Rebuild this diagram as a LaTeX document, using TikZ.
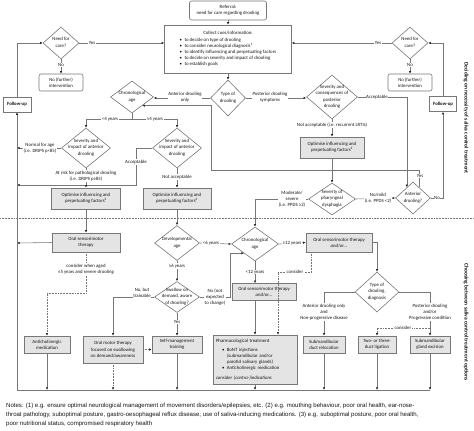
\documentclass[tikz,border=0pt]{standalone}
\usepackage{fontspec}
\setmainfont{Carlito}
\newfontfamily\notesfont{Liberation Sans}
\usetikzlibrary{arrows.meta,shapes.geometric}
\definecolor{lncol}{HTML}{777777}
\definecolor{boxfill}{HTML}{E4E4E4}
\definecolor{txtcol}{HTML}{151515}
\def\dtxt#1{\smash{\raisebox{-1pt}{\makebox[0pt]{\begin{tabular}{@{}c@{}}#1\end{tabular}}}}}
\tikzset{
	every node/.style={font=\fontsize{4.8}{6.1}\selectfont, text=txtcol},
	wbox/.style={draw=lncol, fill=white, align=center, inner sep=1pt, line width=0.6pt},
	gbox/.style={wbox, fill=boxfill},
	rbox/.style={wbox, rounded corners=2pt},
	fubox/.style={wbox, font=\fontsize{4.8}{6.1}\selectfont\bfseries},
	dia/.style={draw=lncol, fill=white, shape=diamond, inner sep=0pt, line width=0.6pt},
	lbl/.style={fill=white, inner sep=0.5pt, align=center},
	conn/.style={draw=lncol, line width=0.55pt},
	arr/.style={conn, -{Latex[length=2.6pt,width=2.4pt,color=black!85]}},
	dconn/.style={conn, densely dotted},
	darr/.style={arr, densely dotted},
	sidelbl/.style={rotate=-90, font=\fontsize{5.5}{6}\selectfont\bfseries},
}

\begin{document}
\begin{tikzpicture}[x=1pt,y=-1pt]
			%%%%% START %%%%%
			\useasboundingbox (0,0) rectangle (474,431);
			
			\node[rbox, minimum width=77pt, minimum height=19pt] (refer) at (228,10.5) {Referral:\\need for care regarding drooling};
			\node[wbox, minimum width=127pt, minimum height=48pt] (cues) at (228,49) {Collect cues/information:\\[1.5pt]
				\begin{tabular}{@{}l@{}}
				\textbullet\enspace to decide on type of drooling\\
				\textbullet\enspace to consider neurological diagnosis\textsuperscript{1}\\
				\textbullet\enspace to identify influencing and perpetuating factors\\
				\textbullet\enspace to decide on severity and impact of drooling\\
				\textbullet\enspace to establish goals
				\end{tabular}};
			
			\node[dia, minimum width=36pt, minimum height=32pt] (careL) at (61,43) {\dtxt{Need for\\care?}};
			\node[dia, minimum width=36pt, minimum height=32pt] (careR) at (410,43) {\dtxt{Need for\\care?}};
			\node[rbox, minimum width=44pt, minimum height=17pt] (noneL) at (61,82.5) {No (further)\\intervention};
			\node[rbox, minimum width=44pt, minimum height=17pt] (noneR) at (410,82.5) {No (further)\\intervention};
			\node[fubox, minimum width=28pt, minimum height=15pt] (fuL) at (17,104.5) {Follow-up};
			\node[fubox, minimum width=27pt, minimum height=15pt] (fuR) at (443,104) {Follow-up};
			
			\node[dia, minimum width=35pt, minimum height=36pt] (typ) at (228,98) {\dtxt{Type of\\drooling}};
			\node[dia, minimum width=43pt, minimum height=32pt] (chrA) at (132,97) {\dtxt{Chronological\\age}};
			\node[dia, minimum width=51pt, minimum height=44pt] (posev) at (332,97) {\dtxt{Severity and\\consequences of\\posterior\\drooling}};
			\node[dia, minimum width=49pt, minimum height=40pt] (sevL) at (86,148) {\dtxt{Severity and\\impact of anterior\\drooling}};
			\node[dia, minimum width=49pt, minimum height=40pt] (sevR) at (177,148) {\dtxt{Severity and\\impact of anterior\\drooling}};
			
			\node[gbox, minimum width=69pt, minimum height=21pt] (optL) at (86,198.5) {Optimise influencing and\\perpetuating factors\textsuperscript{2}};
			\node[gbox, minimum width=68pt, minimum height=21pt] (optR) at (177,198.5) {Optimise influencing and\\perpetuating factors\textsuperscript{2}};
			\node[gbox, minimum width=64pt, minimum height=21pt] (optP) at (332,147.5) {Optimise influencing and\\perpetuating factors\textsuperscript{3}};
			\node[dia, minimum width=47pt, minimum height=32pt] (phar) at (332,199) {\dtxt{Severity of\\pharyngeal\\dysphagia}};
			\node[dia, minimum width=35pt, minimum height=32pt] (antd) at (413,198) {\dtxt{Anterior\\drooling?}};
			
			\node[gbox, minimum width=68pt, minimum height=19pt] (therL) at (86,242.5) {Oral sensorimotor\\therapy};
			\node[dia, minimum width=45pt, minimum height=35pt] (devA) at (177,243) {\dtxt{Developmental\\age}};
			\node[dia, minimum width=47pt, minimum height=34pt] (chrB) at (255,244) {\dtxt{Chronological\\age}};
			\node[gbox, minimum width=66pt, minimum height=19pt] (osC) at (339,242.5) {Oral sensorimotor therapy\\\textit{and/or...}};
			\node[dia, minimum width=45pt, minimum height=31pt] (swal) at (177,297) {\dtxt{Swallow on\\demand, aware\\of drooling?}};
			\node[gbox, minimum width=64pt, minimum height=17pt] (osB) at (264,292) {Oral sensorimotor therapy\\\textit{and/or...}};
			\node[dia, minimum width=44pt, minimum height=40pt] (diag) at (377,292) {\dtxt{Type of\\drooling,\\diagnosis}};
			
			\node[gbox, minimum width=46pt, minimum height=17pt] (antic) at (47,344.5) {Anticholinergic\\medication};
			\node[gbox, minimum width=60pt, minimum height=27pt] (omt) at (113,349.5) {Oral motor therapy\\focused on swallowing\\on demand/awareness};
			\node[gbox, minimum width=50pt, minimum height=17pt] (smt) at (177,344.5) {Self-management\\training};
			\node[gbox, minimum width=84pt, minimum height=49pt, text width=78pt, align=left] (pharm) at (255,359.5) {Pharmacological treatment\\[2.5pt]
				\hspace*{6pt}\textbullet\enspace BoNT injections\\
				\hspace*{11pt}(submandibular and/or\\
				\hspace*{11pt}parotid salivary glands)\\
				\hspace*{6pt}\textbullet\enspace Anticholinergic medication\\[3.5pt]
				\textit{consider (contra-)indications}};
			\node[gbox, minimum width=42pt, minimum height=17pt] (dur) at (324,344.5) {Submandibular\\duct relocation};
			\node[gbox, minimum width=38pt, minimum height=17pt] (tdl) at (377,344.5) {Two- or three-\\duct ligation};
			\node[gbox, minimum width=40pt, minimum height=17pt] (sge) at (430,344.5) {Submandibular\\gland excision};
			
			\coordinate (split) at (132,119);
			\coordinate (acc1) at (136,148);
			\coordinate (inL1) at (17,148);
			\coordinate (inL2) at (17,185);
			\coordinate (inL3) at (17,243);
			\coordinate (yesb) at (211,170);
			\coordinate (dt1) at (86,293);
			\coordinate (nc) at (230,297);
			\coordinate (cs1) at (278,272);
			\coordinate (cs2) at (430,328);
			\coordinate (botL) at (17,390);
			\coordinate (botR) at (430,390);
			
			\draw[lncol, densely dotted, line width=0.55pt] (0,218) -- (474,218);
			
			\draw[arr] (refer) -- (cues);
			\draw[arr] (careL.east) -- (cues.west |- careL.east);
			\draw[arr] (careR.west) -- (cues.east |- careR.west);
			\draw[arr] (careL) -- (noneL);
			\draw[arr] (careR) -- (noneR);
			\draw[arr] (fuL.north) |- (careL.west);
			\draw[arr] (fuR.north) |- (careR.east);
			\draw[arr] (cues.south -| typ.north) -- (typ.north);
			\draw[arr] (typ.west) -- (chrA.east |- typ.west);
			\draw[arr] (typ.east) -- (posev.west |- typ.east);
			\draw[arr] (chrA.south) -- (split) -| (sevL.north);
			\draw[arr] (split) -| (sevR.north);
			\draw[arr] (sevL.west) -- (inL1);
			\draw[arr] (sevR.west) -- (acc1) |- (inL2);
			\draw[arr] (sevL) -- (optL);
			\draw[arr] (sevR) -- (optR);
			\draw[arr] (posev) -- (optP);
			\draw[arr] (posev.east) -| (antd.120);
			\draw[arr] (optP) -- (phar);
			\draw[arr] (phar.east) -- (antd.west);
			\draw[arr] (phar.west) -| (chrB.north);
			\draw[arr] (antd.60) |- (yesb) |- (chrA.-40);
			\draw[arr] (antd.east) -| (fuR.south);
			
			\draw[arr] (optL) -- (therL);
			\draw[arr] (therL.west) -- (inL3);
			\draw[darr] (therL.south) -- (dt1) -| (antic.north);
			\draw[arr] (optR) -- (devA);
			\draw[arr] (devA.east) -- (chrB.west);
			\draw[arr] (devA) -- (swal);
			\draw[arr] (swal.west) -| (omt.north);
			\draw[arr] (swal.east) -- (nc) |- (chrB.-140);
			\draw[arr] (swal) -- (smt);
			\draw[darr] (omt.east) -- (smt.west |- omt.east);
			\draw[arr] (chrB.south) -- (chrB.south |- osB.north);
			\draw[arr] (chrB.east) -- (osC.west);
			\draw[arr] (osB.south -| pharm.north) -- (pharm.north);
			\draw[darr] ([xshift=6pt]osC.south west) |- (cs1) -- (cs1 |- pharm.north);
			\draw[arr] (osC.east) -| (diag.north);
			\draw[arr] (diag.west) -| (dur.north);
			\draw[arr] (diag.east) -| (sge.north);
			\draw[darr] (cs2) -| (tdl.north);
			
			\draw[arr] (antic.south) -- (antic.south |- botL);
			\draw[darr] (omt.south) -- (omt.south |- botL);
			\draw[arr] (smt.south) -- (smt.south |- botL);
			\draw[arr] (pharm.south) -- (pharm.south |- botL);
			\draw[arr] (dur.south) -- (dur.south |- botL);
			\draw[arr] (tdl.south) -- (tdl.south |- botL);
			\draw[arr] (sge.south) -- (sge.south |- botL);
			\draw[arr] (botR) -- (botL) -- (fuL.south);
			
			\node[lbl] (yesL) at (92,43) {Yes};
			\node[lbl] (yesR) at (378,43) {Yes};
			\node[lbl] (noL) at (61,65) {No};
			\node[lbl] (noR) at (410,65) {No};
			\node[lbl] (antonly) at (185,97) {Anterior drooling\\only};
			\node[lbl] (postsym) at (270,97) {Posterior drooling\\symptoms};
			\node[lbl] (lt4) at (110,119) {<4 years};
			\node[lbl] (ge4) at (155,119) {≥4 years};
			\node[lbl] (normal) at (40,148) {Normal for age\\(i.e. DRIPS p<85)};
			\node[lbl] (acc) at (136,162) {Acceptable};
			\node[lbl] (risk) at (86,176) {At risk for pathological drooling\\(i.e. DRIPS p≥85)};
			\node[lbl] (notacc) at (177,177) {Not acceptable};
			\node[lbl] (accP) at (377,97) {Acceptable};
			\node[lbl] (notaccP) at (332,125) {Not acceptable (i.e. recurrent LRTIs)};
			\node[lbl] (yesA) at (420,176) {Yes};
			\node[lbl] (modsev) at (292,199) {Moderate/\\severe\\(i.e. PPDS ≥2)};
			\node[lbl] (nomild) at (378,198) {No/mild\\(i.e. PPDS <2)};
			\node[lbl] (noA) at (437,198) {No};
			\node[lbl] (consL) at (86,269) {consider when aged\\≤5 years and severe drooling};
			\node[lbl] (lt6) at (211,243) {<6 years};
			\node[lbl] (ge6) at (177,266) {≥6 years};
			\node[lbl] (trainable) at (142,293) {No, but\\trainable};
			\node[lbl] (notexp) at (215,297) {No (not\\expected\\to change)};
			\node[lbl] (yesS) at (177,322) {Yes};
			\node[lbl] (lt12) at (255,272) {<12 years};
			\node[lbl] (ge12) at (292,243) {≥12 years};
			\node[lbl] (consB) at (295,272) {consider};
			\node[lbl] (antnp) at (324,312) {Anterior drooling only\\and\\Non-progressive disease};
			\node[lbl] (postpc) at (430,312) {Posterior drooling\\and/or\\Progressive condition};
			\node[lbl] (consC) at (403,328) {consider};
			
			\node[sidelbl] (sideA) at (466,118) {Deciding on necessity of saliva control treatment};
			\node[sidelbl] (sideB) at (466,322) {Choosing between saliva control treatment options};
			
			\node[anchor=north west, inner sep=0pt, align=left, font=\notesfont\fontsize{6.05}{9}\selectfont] (notes) at (6,403) {Notes: (1) e.g. ensure optimal neurological management of movement disorders/epilepsies, etc. (2) e.g. mouthing behaviour, poor oral health, ear-nose-\\throat pathology, suboptimal posture, gastro-oesophageal reflux disease, use of saliva-inducing medications. (3) e.g. suboptimal posture, poor oral health,\\poor nutritional status, compromised respiratory health};
			
			%%%%% END %%%%%
\end{tikzpicture}
\end{document}
